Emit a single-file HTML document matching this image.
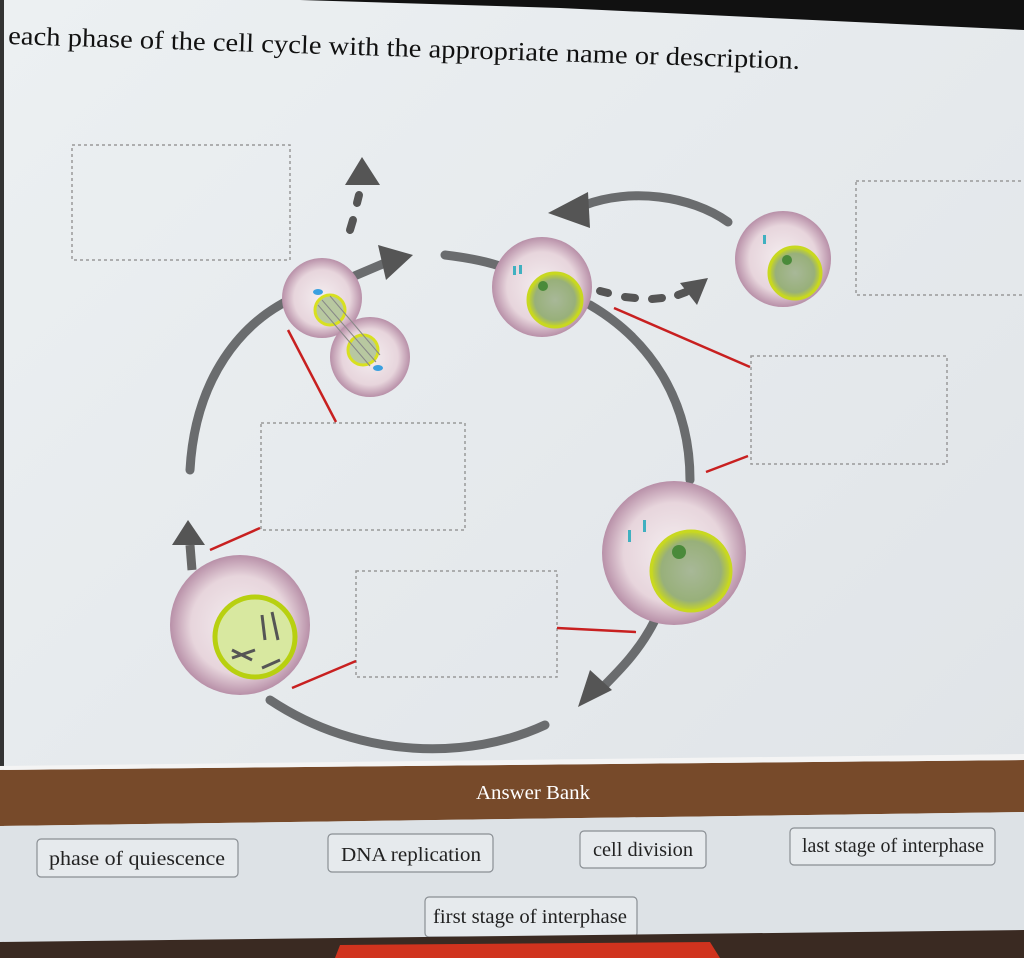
<!DOCTYPE html>
<html><head><meta charset="utf-8"><style>
html,body{margin:0;padding:0;width:1024px;height:958px;overflow:hidden;background:#e6e9ec}
svg{display:block}
text{font-family:"Liberation Serif",serif}
</style></head><body>
<svg width="1024" height="958" viewBox="0 0 1024 958" xmlns="http://www.w3.org/2000/svg">
<defs>
<radialGradient id="cell" cx="50%" cy="50%" r="50%">
<stop offset="0" stop-color="#f4eef0"/><stop offset="0.7" stop-color="#e7d5dc"/><stop offset="1" stop-color="#b890a8"/>
</radialGradient>
<radialGradient id="nuc" cx="50%" cy="50%" r="50%">
<stop offset="0" stop-color="#a8b898"/><stop offset="0.75" stop-color="#98b07a"/><stop offset="1" stop-color="#c8d820"/>
</radialGradient>
<linearGradient id="bg" x1="0" y1="0" x2="1" y2="1">
<stop offset="0" stop-color="#ecf0f2"/><stop offset="1" stop-color="#dfe3e7"/>
</linearGradient>
</defs>
<rect width="1024" height="958" fill="url(#bg)"/>
<polygon points="300,0 1024,0 1024,30 560,8" fill="#111"/>
<polygon points="0,0 4,0 4,958 0,958" fill="#333"/>
<text x="8" y="44" font-size="26" fill="#111" textLength="792" lengthAdjust="spacingAndGlyphs" transform="rotate(1.8 8 44)">each phase of the cell cycle with the appropriate name or description.</text>

<g fill="none" stroke="#999" stroke-width="1.5" stroke-dasharray="3,3">
<rect x="72" y="145" width="218" height="115"/>
<rect x="856" y="181" width="170" height="114"/>
<rect x="751" y="356" width="196" height="108"/>
<rect x="261" y="423" width="204" height="107"/>
<rect x="356" y="571" width="201" height="106"/>
</g>

<g fill="none" stroke="#6a6c6e" stroke-width="9" stroke-linecap="round">
<path d="M190,470 C195,380 240,320 300,295"/>
<path d="M445,255 C470,258 490,262 505,268"/>
<path d="M590,305 C650,340 690,400 690,480"/>
<path d="M655,620 C640,650 620,670 600,690"/>
<path d="M545,725 C470,760 360,760 270,700"/>
<path d="M728,222 C690,195 630,188 585,205"/>
<path d="M345,280 L385,263"/>
</g>
<polygon points="413,255 378,245 386,280" fill="#555"/>
<polygon points="548,213 588,192 590,228" fill="#555"/>
<polygon points="578,707 612,690 590,670" fill="#555"/>
<polygon points="188,520 172,545 205,545" fill="#555"/>
<line x1="190" y1="545" x2="192" y2="570" stroke="#666" stroke-width="9"/>
<polygon points="362,157 345,185 380,185" fill="#555"/>
<g stroke="#555" stroke-width="8" stroke-linecap="round">
<line x1="359" y1="195" x2="357" y2="203"/><line x1="353" y1="220" x2="350" y2="230"/>
<line x1="600" y1="291" x2="608" y2="293"/><line x1="625" y1="297" x2="635" y2="298"/><line x1="652" y1="299" x2="662" y2="298"/><line x1="678" y1="295" x2="686" y2="292"/>
</g>
<polygon points="708,278 680,283 697,305" fill="#555"/>

<g stroke="#c82020" stroke-width="2.5">
<line x1="288" y1="330" x2="336" y2="422"/>
<line x1="614" y1="308" x2="750" y2="367"/>
<line x1="706" y1="472" x2="748" y2="456"/>
<line x1="210" y1="550" x2="260" y2="528"/>
<line x1="557" y1="628" x2="636" y2="632"/>
<line x1="292" y1="688" x2="356" y2="661"/>
</g>

<circle cx="322" cy="298" r="40" fill="url(#cell)"/>
<circle cx="370" cy="357" r="40" fill="url(#cell)"/>
<circle cx="330" cy="310" r="15" fill="#b8c8a0" stroke="#d8e020" stroke-width="3"/>
<circle cx="363" cy="350" r="15" fill="#b8c8a0" stroke="#d8e020" stroke-width="3"/>
<g stroke="#888" stroke-width="1"><line x1="322" y1="300" x2="376" y2="362"/><line x1="330" y1="296" x2="380" y2="355"/><line x1="318" y1="305" x2="370" y2="366"/></g>
<ellipse cx="318" cy="292" rx="5" ry="3" fill="#3aa0e0"/><ellipse cx="378" cy="368" rx="5" ry="3" fill="#3aa0e0"/>

<circle cx="542" cy="287" r="50" fill="url(#cell)"/>
<circle cx="555" cy="300" r="27" fill="url(#nuc)" stroke="#c8d820" stroke-width="3"/>
<circle cx="543" cy="286" r="5" fill="#4a8a3a"/>
<rect x="513" y="266" width="3" height="9" fill="#40b0c0"/><rect x="519" y="265" width="3" height="9" fill="#40b0c0"/>

<circle cx="783" cy="259" r="48" fill="url(#cell)"/>
<circle cx="795" cy="273" r="26" fill="url(#nuc)" stroke="#c8d820" stroke-width="3"/>
<circle cx="787" cy="260" r="5" fill="#4a8a3a"/>
<rect x="763" y="235" width="3" height="9" fill="#40b0c0"/>

<circle cx="674" cy="553" r="72" fill="url(#cell)"/>
<circle cx="691" cy="571" r="40" fill="url(#nuc)" stroke="#c8d820" stroke-width="3"/>
<circle cx="679" cy="552" r="7" fill="#4a8a3a"/>
<rect x="628" y="530" width="3" height="12" fill="#40b0c0"/><rect x="643" y="520" width="3" height="12" fill="#40b0c0"/>

<circle cx="240" cy="625" r="70" fill="url(#cell)"/>
<circle cx="255" cy="637" r="40" fill="#d8e8a0" stroke="#b8d010" stroke-width="5"/>
<g stroke="#555" stroke-width="3"><line x1="232" y1="650" x2="252" y2="660"/><line x1="232" y1="658" x2="255" y2="650"/><line x1="262" y1="615" x2="265" y2="640"/><line x1="272" y1="612" x2="278" y2="640"/><line x1="262" y1="668" x2="280" y2="660"/></g>

<polygon points="0,770 1024,760 1024,812 0,826" fill="#774a2a"/>
<polygon points="0,766 1024,754 1024,760 0,770" fill="#f4f4f4"/>
<text x="533" y="799" font-size="20" fill="#fff" text-anchor="middle" textLength="114" lengthAdjust="spacingAndGlyphs">Answer Bank</text>
<polygon points="0,826 1024,812 1024,930 0,942" fill="#dde2e6"/>

<g fill="#e6eaed" stroke="#8a8f94" stroke-width="1.2">
<rect x="37" y="839" width="201" height="38" rx="4"/>
<rect x="328" y="834" width="165" height="38" rx="4"/>
<rect x="580" y="831" width="126" height="37" rx="4"/>
<rect x="790" y="828" width="205" height="37" rx="4"/>
<rect x="425" y="897" width="212" height="40" rx="4"/>
</g>
<g font-size="20" fill="#222" text-anchor="middle" lengthAdjust="spacingAndGlyphs">
<text x="137" y="865" textLength="176" lengthAdjust="spacingAndGlyphs">phase of quiescence</text>
<text x="411" y="861" textLength="140" lengthAdjust="spacingAndGlyphs">DNA replication</text>
<text x="643" y="856" textLength="100" lengthAdjust="spacingAndGlyphs">cell division</text>
<text x="893" y="852" textLength="182" lengthAdjust="spacingAndGlyphs">last stage of interphase</text>
<text x="530" y="923" textLength="194" lengthAdjust="spacingAndGlyphs">first stage of interphase</text>
</g>
<polygon points="0,942 1024,930 1024,958 0,958" fill="#3a2a22"/>
<polygon points="340,945 710,942 720,958 335,958" fill="#d0331e"/>
</svg>
</body></html>
